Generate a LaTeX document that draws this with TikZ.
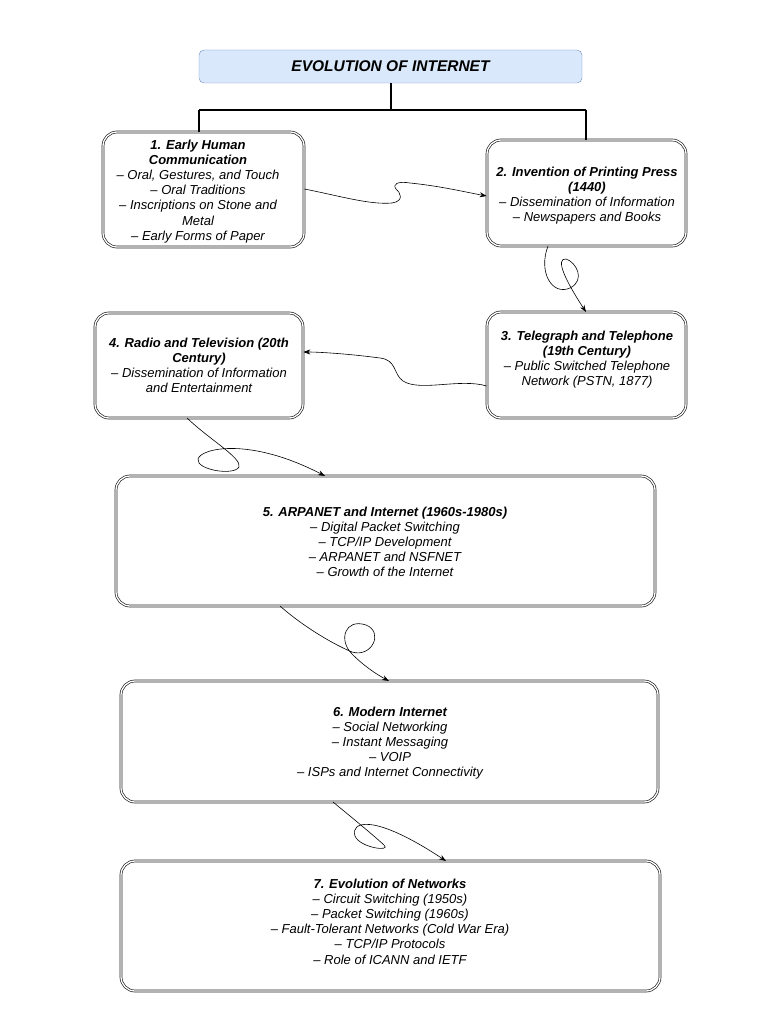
\documentclass[tikz,border=0pt]{standalone}
\usepackage{fontspec}
\setmainfont{Liberation Sans}
\usetikzlibrary{arrows.meta}
\definecolor{titlefill}{HTML}{DAE8FC}
\definecolor{titledraw}{HTML}{6C8EBF}
\tikzset{
  box/.style={draw=black!85, double=white, double distance=1.3pt, line width=0.7pt, rounded corners=14pt, inner sep=0pt},
  txt/.style={align=center, inner sep=0pt, font=\fontsize{13}{15.2}\selectfont\itshape},
  conn/.style={draw=black, line width=0.6pt, -{Stealth[length=7pt,width=5pt]}},
  tree/.style={draw=black, line width=1.6pt},
}
\begin{document}
\begin{tikzpicture}[x=1pt,y=-1pt]
\useasboundingbox (0,0) rectangle (768,1024);
% title
\node[draw=titledraw, fill=titlefill, rounded corners=5pt, minimum width=383pt, minimum height=33pt, inner sep=0pt,
      font=\fontsize{15.5}{17}\selectfont\bfseries\itshape] (title) at (390.5,66.5) {EVOLUTION OF INTERNET};
% boxes
\node[box, minimum width=201pt, minimum height=115pt] (b1) at (203.5,189.5) {};
\node[box, minimum width=199pt, minimum height=106pt] (b2) at (586.5,193) {};
\node[box, minimum width=199pt, minimum height=106pt] (b3) at (586.5,365) {};
\node[box, minimum width=208pt, minimum height=105pt] (b4) at (199,365.5) {};
\node[box, minimum width=539pt, minimum height=130pt] (b5) at (385.5,541) {};
\node[box, minimum width=537pt, minimum height=121pt] (b6) at (389.5,741.5) {};
\node[box, minimum width=539pt, minimum height=130pt] (b7) at (390.5,926) {};
% tree
\coordinate (tj) at (391,110);
\coordinate (tl) at (199,110);
\coordinate (tr) at (586,110);
\draw[tree] (title.south -| tj) -- (tj);
\draw[tree] (tl) -- (tr);
\draw[tree] (tl) -- (tl |- b1.north);
\draw[tree] (tr) -- (tr |- b2.north);
% texts
\node[txt, anchor=north] (t1) at (198,139.5) {\bfseries 1. Early Human\\\bfseries Communication\\-- Oral, Gestures, and Touch\\-- Oral Traditions\\-- Inscriptions on Stone and\\Metal\\-- Early Forms of Paper};
\node[txt, anchor=north] (t2) at (587,166.5) {\bfseries 2. Invention of Printing Press\\\bfseries (1440)\\-- Dissemination of Information\\-- Newspapers and Books};
\node[txt, anchor=north] (t3) at (587,330.5) {\bfseries 3. Telegraph and Telephone\\\bfseries (19th Century)\\-- Public Switched Telephone\\Network (PSTN, 1877)};
\node[txt, anchor=north] (t4) at (199,337.5) {\bfseries 4. Radio and Television (20th\\\bfseries Century)\\-- Dissemination of Information\\and Entertainment};
\node[txt, anchor=north] (t5) at (385,506.5) {\bfseries 5. ARPANET and Internet (1960s-1980s)\\-- Digital Packet Switching\\-- TCP/IP Development\\-- ARPANET and NSFNET\\-- Growth of the Internet};
\node[txt, anchor=north] (t6) at (390,706.5) {\bfseries 6. Modern Internet\\-- Social Networking\\-- Instant Messaging\\-- VOIP\\-- ISPs and Internet Connectivity};
\node[txt, anchor=north] (t7) at (390,878.5) {\bfseries 7. Evolution of Networks\\-- Circuit Switching (1950s)\\-- Packet Switching (1960s)\\-- Fault-Tolerant Networks (Cold War Era)\\-- TCP/IP Protocols\\-- Role of ICANN and IETF};
% connectors
\draw[conn] (b1.east |- 0,189) .. controls (340,196) and (370,205) .. (392,203)
  .. controls (405,201) and (400,192) .. (396,189)
  .. controls (392,184) and (398,181) .. (410,183)
  .. controls (440,186) and (465,192) .. (b2.west |- 0,196);
\draw[conn] (548,246) .. controls (538,272) and (552,296) .. (570,288)
  .. controls (586,280) and (576,262) .. (566,259)
  .. controls (555,258) and (565,280) .. (586,312);
\draw[conn] (b3.west |- 0,386) .. controls (460,378) and (420,392) .. (403,381)
  .. controls (393,374) and (397,360) .. (380,358)
  .. controls (350,354) and (320,352) .. (b4.east |- 0,352);
\draw[conn] (187,418) .. controls (210,440) and (242,458) .. (239,467)
  .. controls (234,476) and (196,470) .. (198,459)
  .. controls (201,448) and (250,437) .. (325,476);
\draw[conn] (280,606) .. controls (305,628) and (335,645) .. (352,652)
  .. controls (372,658) and (384,632) .. (366,625)
  .. controls (345,618) and (338,640) .. (352,654)
  .. controls (364,666) and (376,674) .. (389,681);
\draw[conn] (333,802) .. controls (350,816) and (372,834) .. (384,845)
  .. controls (392,852) and (360,848) .. (355,836)
  .. controls (350,822) and (372,812) .. (446,861);
\end{tikzpicture}
\end{document}
